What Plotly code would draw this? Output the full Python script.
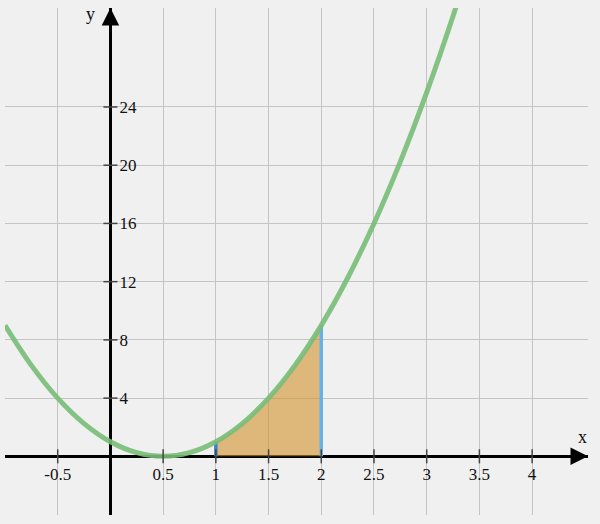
import plotly.graph_objects as go

# curve values
curve_x = [-1, -0.75, -0.5, -0.25, 0, 0.25, 0.5, 0.75, 1, 1.25, 1.5, 1.75, 2,
           2.25, 2.5, 2.75, 3, 3.25, 3.5]
curve_y = [9, 6.25, 4, 2.25, 1, 0.25, 0, 0.25, 1, 2.25, 4, 6.25, 9,
           12.25, 16, 20.25, 25, 30.25, 36]

# shaded region bounds
area_from = 1
area_to = 2

x_ticks = [-0.5, 0.5, 1, 1.5, 2, 2.5, 3, 3.5, 4]
x_labels = ["-0.5", "0.5", "1", "1.5", "2", "2.5", "3", "3.5", "4"]
y_ticks = [4, 8, 12, 16, 20, 24]
y_labels = ["4", "8", "12", "16", "20", "24"]

x_range = [-1, 4.53]
y_range = [-4.03, 30.8]

font = dict(family="Liberation Serif, DejaVu Serif, serif", size=17, color="#111")

area_x = [x for x in curve_x if area_from <= x <= area_to]
area_y = [y for x, y in zip(curve_x, curve_y) if area_from <= x <= area_to]

fig = go.Figure()

# shaded area under the curve
fig.add_trace(go.Scatter(x=area_x, y=area_y, mode="lines", line=dict(width=0, shape="spline"),
                         fill="tozeroy", fillcolor="rgba(210,145,45,0.6)", hoverinfo="skip"))

# vertical bounds of the area
fig.add_trace(go.Scatter(x=[area_x[0], area_x[0]], y=[0, area_y[0]], mode="lines",
                         line=dict(color="#3a82cc", width=3.5)))
fig.add_trace(go.Scatter(x=[area_x[-1], area_x[-1]], y=[0, area_y[-1]], mode="lines",
                         line=dict(color="#64b2e6", width=3.5)))

# the curve
fig.add_trace(go.Scatter(x=curve_x, y=curve_y, mode="lines",
                         line=dict(color="rgb(120,190,120)", width=5, shape="spline"),
                         opacity=0.9))

# crossing tick marks on both axes
fig.add_trace(go.Scatter(x=x_ticks, y=[0] * len(x_ticks), mode="markers",
                         marker=dict(symbol="line-ns", size=10, line=dict(width=1.5, color="#444"))))
fig.add_trace(go.Scatter(x=[0] * len(y_ticks), y=y_ticks, mode="markers",
                         marker=dict(symbol="line-ew", size=10, line=dict(width=1.5, color="#444"))))

x_pos = -x_range[0] / (x_range[1] - x_range[0])
y_pos = -y_range[0] / (y_range[1] - y_range[0])

fig.update_xaxes(range=x_range, anchor="free", position=y_pos, showline=True,
                 linecolor="black", linewidth=2.5, tickvals=x_ticks, ticktext=x_labels,
                 ticks="", ticklabelstandoff=2, showgrid=True, gridcolor="#c4c4c4", gridwidth=1,
                 zeroline=False, tickfont=font, layer="below traces", automargin=False)
fig.update_yaxes(range=y_range, anchor="free", position=x_pos, side="right", showline=True,
                 linecolor="black", linewidth=2.5, tickvals=y_ticks, ticktext=y_labels,
                 ticks="", ticklabelstandoff=4, showgrid=True, gridcolor="#c4c4c4", gridwidth=1,
                 zeroline=False, tickfont=font, layer="below traces", automargin=False)

# arrowheads and axis names
fig.add_annotation(x=x_range[1], y=0, ax=x_range[1] - 0.3, ay=0, axref="x", ayref="y",
                   xref="x", yref="y", showarrow=True, arrowhead=2, arrowsize=1.4,
                   arrowwidth=2.5, arrowcolor="black", text="", standoff=0)
fig.add_annotation(x=0, y=y_range[1], ax=0, ay=y_range[1] - 2, axref="x", ayref="y",
                   xref="x", yref="y", showarrow=True, arrowhead=2, arrowsize=1.4,
                   arrowwidth=2.5, arrowcolor="black", text="", standoff=0)
fig.add_annotation(x=4.475, y=1.3, text="x", showarrow=False, font=dict(font, size=18))
fig.add_annotation(x=-0.19, y=30.4, text="y", showarrow=False, font=dict(font, size=18))

fig.update_layout(width=600, height=524, margin=dict(l=5, r=12, t=8, b=9),
                  paper_bgcolor="#f0f0f0", plot_bgcolor="#f0f0f0", showlegend=False)

fig.write_html("out.html", config={"displayModeBar": False},
               post_script="document.body.style.margin='0';")
